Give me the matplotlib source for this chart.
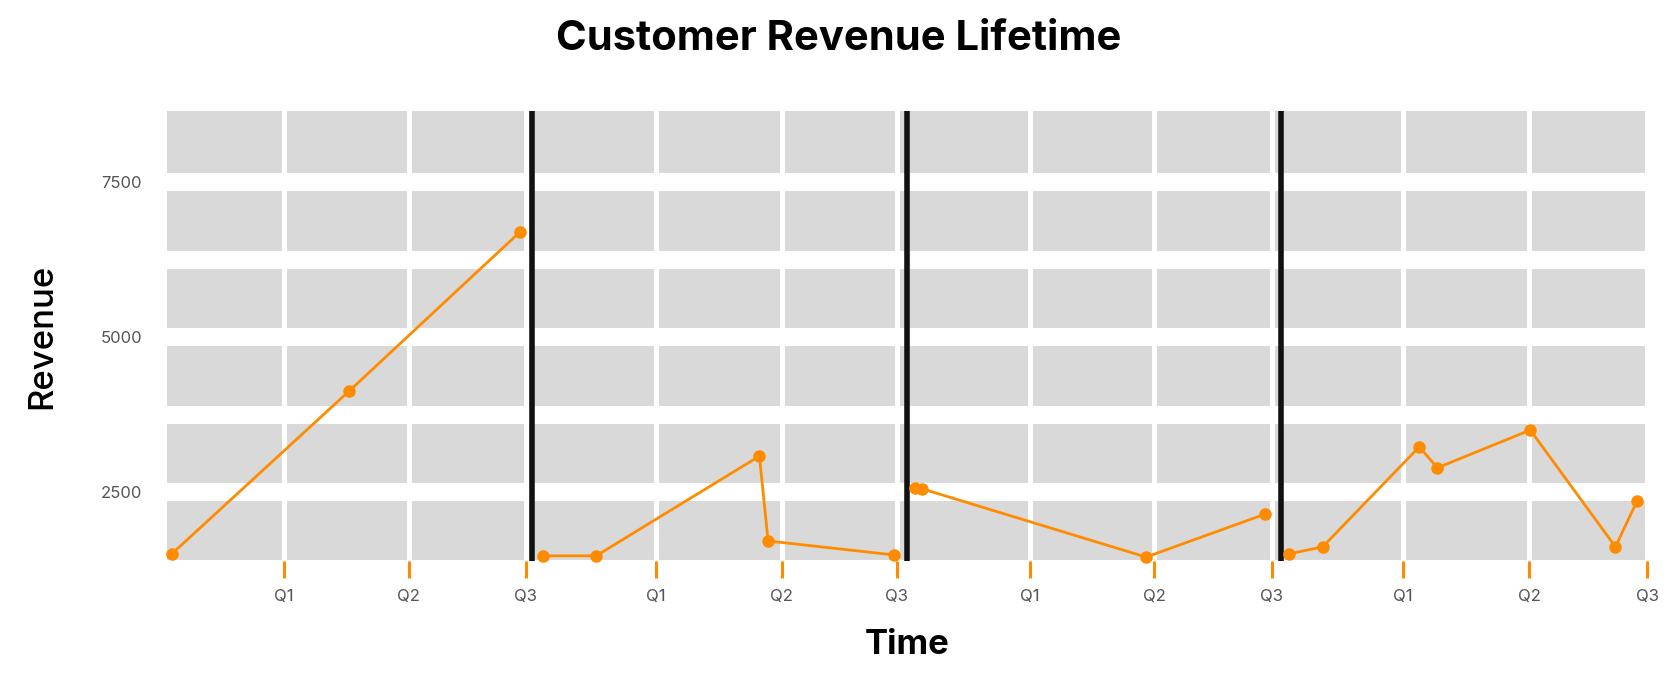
import numpy as np
import matplotlib
matplotlib.use('Agg')
import matplotlib.pyplot as plt

plt.rcParams['font.family'] = ['Inter', 'DejaVu Sans']

# time in months from start, revenue per year segment
years_x = [
    [0.15, 5.88, 11.4],
    [12.12, 13.85, 19.12, 19.4, 23.45],
    [24.15, 24.38, 31.6, 35.45],
    [36.2, 37.3, 40.42, 41.0, 44.0, 46.75, 47.45],
]
years_y = [
    [1500, 4130, 6700],
    [1470, 1470, 3080, 1710, 1485],
    [2565, 2550, 1450, 2145],
    [1500, 1615, 3230, 2890, 3500, 1615, 2360],
]
tick_pos = [3.77, 7.8, 11.58, 15.77, 19.84, 23.55, 27.84, 31.87, 35.65, 39.9, 43.97, 47.77]
tick_labels = ['Q1', 'Q2', 'Q3'] * 4
year_bounds = [11.77, 23.87, 35.94]
y_grid = [1250, 2500, 3750, 5000, 6250, 7500]
y_ticks = [2500, 5000, 7500]

orange = '#ff8c00'
fig = plt.figure(figsize=(16.77, 6.78), dpi=100)
ax = fig.add_axes([0.0996, 0.1726, 0.8831, 0.6634])
ax.set_facecolor('#d9d9d9')
ax.set_xlim(0, 47.8)
ax.set_ylim(1387, 8645)

for g in y_grid:
    ax.axhline(g, color='white', linewidth=13, zorder=1)
for t in tick_pos:
    ax.axvline(t, color='white', linewidth=3.6, zorder=1)
for b in year_bounds:
    ax.axvline(b, color='#111111', linewidth=4, zorder=3)

for xs, ys in zip(years_x, years_y):
    ax.plot(xs, ys, color=orange, linewidth=2, marker='o', markersize=8, zorder=4, clip_on=False)

for s in ax.spines.values():
    s.set_visible(False)
ax.set_xticks(tick_pos)
ax.set_xticklabels(tick_labels)
ax.set_yticks(y_ticks)
ax.tick_params(axis='x', colors=orange, length=12, width=2.2, pad=8, labelcolor='#555555', labelsize=12)
ax.tick_params(axis='y', length=0, pad=18, labelcolor='#555555', labelsize=12)

ax.set_xlabel('Time', fontsize=25, fontweight='bold', labelpad=18)
ax.set_ylabel('Revenue', fontsize=25, fontweight='medium', labelpad=30)
fig.suptitle('Customer Revenue Lifetime', fontsize=30, fontweight='bold', y=0.97)

fig.savefig('out.png', dpi=100)
